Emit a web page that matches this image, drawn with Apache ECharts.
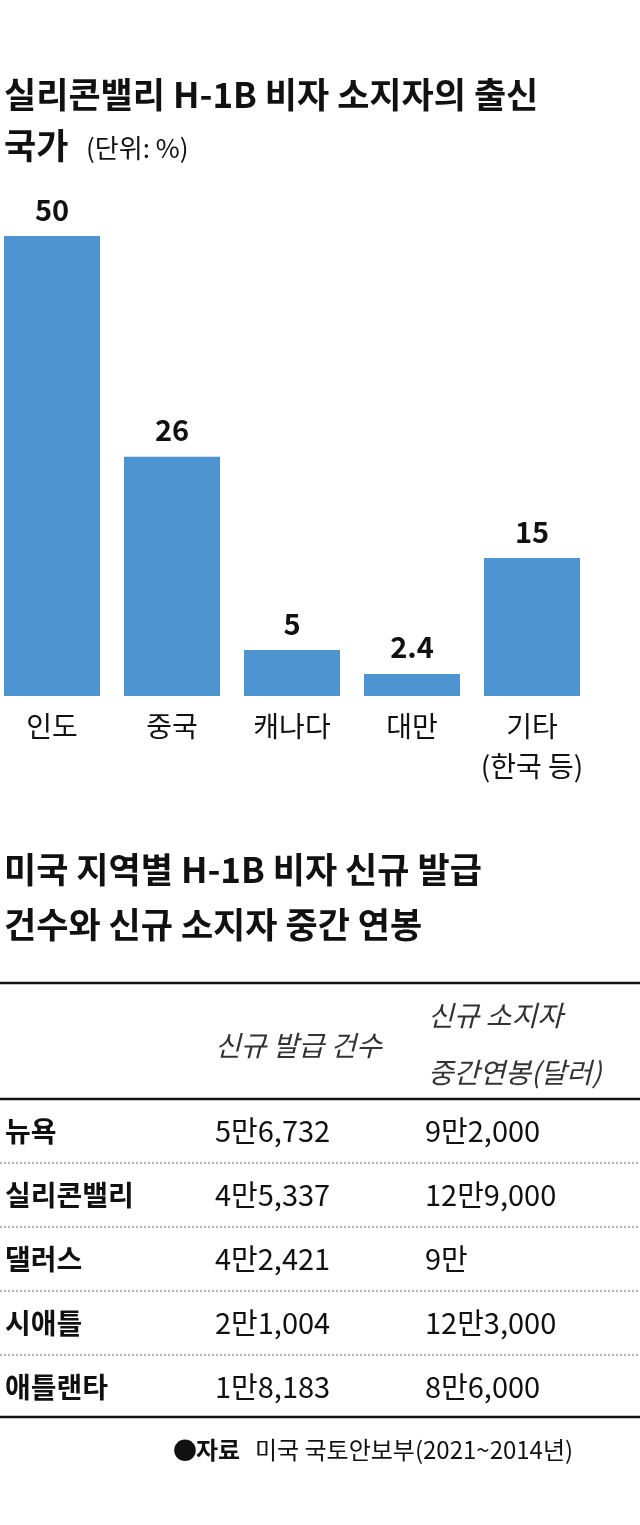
<!DOCTYPE html>
<html><head><meta charset="utf-8">
<script src="https://cdn.jsdelivr.net/npm/echarts@6/dist/echarts.min.js"></script>
<style>html,body{margin:0;padding:0;background:#fff;overflow:hidden}#c{width:648px;height:1525px;margin-left:-8px}</style>
</head><body><div id="c"></div>
<script>
const countries = ['인도','중국','캐나다','대만','기타\n(한국 등)'];
const shares = [50, 26, 5, 2.4, 15];
const regions = ['뉴욕','실리콘밸리','댈러스','시애틀','애틀랜타'];
const issued = ['5만6,732','4만5,337','4만2,421','2만1,004','1만8,183'];
const salary = ['9만2,000','12만9,000','9만','12만3,000','8만6,000'];
const F = '"Noto Sans CJK KR","Noto Sans",sans-serif';
const OX = 8;
const chart = echarts.init(document.getElementById('c'));
const g = [];
function t(x,y,text,o){g.push({type:'text',x:x+OX,y:y,style:Object.assign({text:text,fill:'#111',font:'400 29px '+F,textVerticalAlign:'middle'},o||{})});}
function line(y,w,color,dash){g.push({type:'line',shape:{x1:OX,y1:y,x2:640+OX,y2:y},style:{stroke:color,lineWidth:w,lineDash:dash||null}});}
const TF = '700 35px '+F;
t(4,95,'실리콘밸리 H-1B 비자 소지자의 출신',{font:TF});
t(4,146,'국가',{font:TF});
t(86,148,'(단위: %)',{font:'400 26px '+F});
t(4,870,'미국 지역별 H-1B 비자 신규 발급',{font:TF});
t(4,925,'건수와 신규 소지자 중간 연봉',{font:TF});
line(983,2.5,'#111');
const IF = 'italic 400 28px '+F;
t(215,1045,'신규 발급 건수',{font:IF,fill:'#333'});
t(428,1015,'신규 소지자',{font:IF,fill:'#333'});
t(428,1072,'중간연봉(달러)',{font:IF,fill:'#333'});
line(1099,2.5,'#111');
regions.forEach((r,i)=>{
  const y=1131+i*64;
  t(5,y,r,{font:'700 28px '+F});
  t(215,y,issued[i]);
  t(425,y,salary[i]);
  if(i<regions.length-1) line(y+32,1.5,'#999',[2,2]);
});
line(1417,2.5,'#111');
t(173,1450,'●',{font:'400 24px '+F});
t(196,1450,'자료',{font:'700 24px '+F});
t(255,1450,'미국 국토안보부(2021~2014년)',{font:'400 24px '+F});
chart.setOption({
  animation:false,
  grid:{left:0,top:236,width:600,height:460},
  xAxis:{type:'category',data:countries,axisLine:{show:false},axisTick:{show:false},
    axisLabel:{interval:0,color:'#111',fontSize:28,fontFamily:F,margin:24,lineHeight:40,verticalAlign:'top',padding:[-14,0,0,0]}},
  yAxis:{type:'value',min:0,max:50,show:false},
  series:[{type:'bar',data:shares,barWidth:96,itemStyle:{color:'#4d94d0'},
    label:{show:true,position:'top',distance:12,color:'#111',fontSize:29,fontWeight:'bold',fontFamily:F}}],
  graphic:g
});
</script></body></html>
